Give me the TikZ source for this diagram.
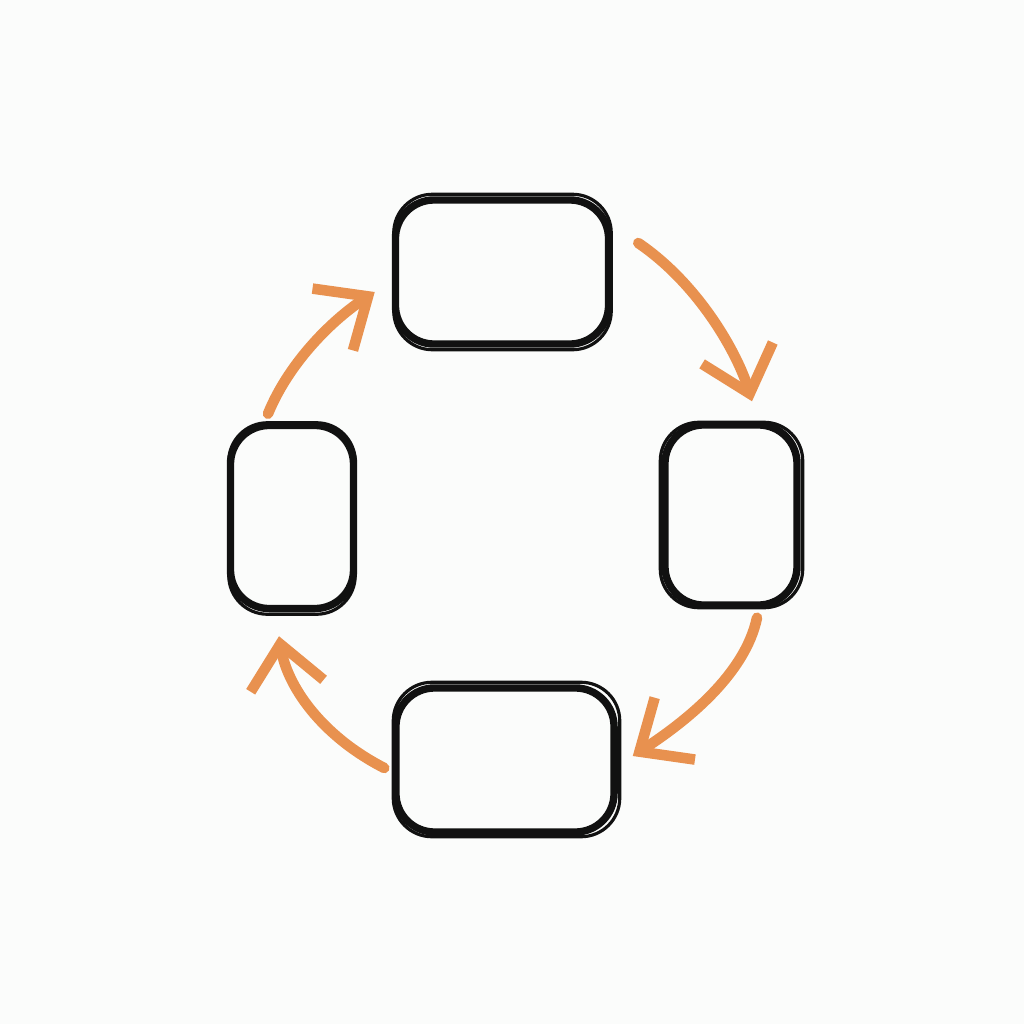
\documentclass[tikz,border=0pt]{standalone}
\usetikzlibrary{arrows.meta,calc}
\definecolor{bg}{HTML}{FBFCFB}
\definecolor{flowc}{HTML}{E8914F}
\definecolor{ink}{HTML}{111111}
\begin{document}
\begin{tikzpicture}[x=0.01cm,y=-0.01cm,
  box/.style={draw=ink,line width=2.1pt,rounded corners=11pt,inner sep=0pt,fill=none},
  sketch/.style={draw=ink,line width=0.9pt,rounded corners=11pt},
  flow/.style={draw=flowc,line width=3pt,line cap=round,
    -{Straight Barb[length=12pt,width=21pt,line width=3pt]}}]
\fill[bg] (0,0) rectangle (1024,1024);
\useasboundingbox (0,0) rectangle (1024,1024);
% boxes
\node[box,minimum width=2.13cm,minimum height=1.44cm] (top) at (502,272) {};
\node[box,minimum width=1.32cm,minimum height=1.80cm] (right) at (731,515) {};
\node[box,minimum width=2.18cm,minimum height=1.44cm] (bottom) at (505,760) {};
\node[box,minimum width=1.23cm,minimum height=1.83cm] (left) at (292,517) {};
% sketchy second strokes
\draw[sketch] ($(top.north west)+(2,-2)$) rectangle ($(top.south east)+(-1,2)$);
\draw[sketch] ($(right.north west)+(-1,1)$) rectangle ($(right.south east)+(2,-1)$);
\draw[sketch] ($(bottom.north west)+(1,-2)$) rectangle ($(bottom.south east)+(2,1)$);
\draw[sketch] ($(left.north west)+(2,1)$) rectangle ($(left.south east)+(-2,2)$);
% arrows
\draw[flow] ($(top.east)+(26,-29)$) .. controls (700,285) and (738,355) .. ($(right.north)+(21,-20)$);
\draw[flow] ($(right.south)+(26,9)$) .. controls (745,675) and (685,722) .. ($(bottom.east)+(15,-4)$);
\draw[flow] ($(bottom.west)+(-8,8)$) .. controls (320,735) and (287,685) .. ($(left.south)+(-13,24)$);
\draw[flow] ($(left.north)+(-24,-8)$) .. controls (290,360) and (335,318) .. ($(top.west)+(-17,20)$);
\end{tikzpicture}
\end{document}
